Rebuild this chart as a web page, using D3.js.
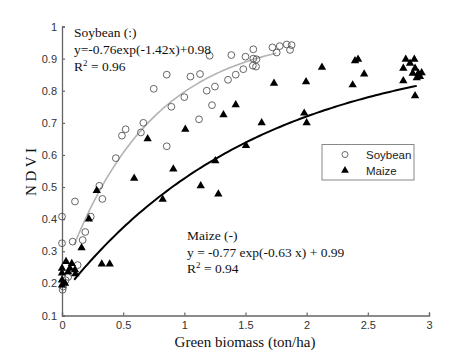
<!DOCTYPE html>
<html>
<head>
<meta charset="utf-8">
<script src="https://cdn.jsdelivr.net/npm/d3@7"></script>
<style>
body { margin: 0; background: #fff; }
svg { display: block; }
</style>
</head>
<body>
<svg id="chart" width="474" height="355"></svg>
<script>
// ---- Data ----
const soybeanX = [0.0, 0.106, 0.0, 0.087, 0.169, 0.19, 0.235, 0.305, 0.33, 0.128, 0.005, 0.01, 0.05, 0.03, 0.08,
  0.44, 0.49, 0.52, 0.645, 0.665, 0.75, 0.856, 0.894, 0.856, 1.0, 1.05, 1.128, 1.12, 1.207, 1.183, 1.25, 1.226,
  1.384, 1.357, 1.42, 1.482, 1.50, 1.564, 1.564, 1.59, 1.56, 1.586, 1.72, 1.78, 1.837, 1.877, 1.755, 1.864];
const soybeanY = [0.408, 0.455, 0.325, 0.33, 0.335, 0.36, 0.408, 0.504, 0.463, 0.257, 0.18, 0.19, 0.22, 0.21, 0.235,
  0.59, 0.66, 0.68, 0.67, 0.70, 0.806, 0.85, 0.75, 0.627, 0.78, 0.844, 0.852, 0.711, 0.909, 0.80, 0.813, 0.755,
  0.911, 0.834, 0.85, 0.867, 0.906, 0.929, 0.90, 0.898, 0.878, 0.875, 0.935, 0.939, 0.944, 0.942, 0.919, 0.927];

const maizeX = [0.70, 1.008, 0.91, 1.253, 1.32, 1.42, 0.59, 0.284, 0.22, 0.16, 0.325, 0.39, 0.823, 1.134, 1.278,
  0.033, 0.08, 0.0, 0.065, 0.106, 0.0, 0.0, 0.0, 0.025, 0.05, 0.11,
  1.504, 1.632, 1.733, 1.98, 2.0, 1.995, 2.125, 2.376, 2.395, 2.42, 2.47,
  2.79, 2.79, 2.81, 2.845, 2.88, 2.886, 2.867, 2.913, 2.926, 2.94, 2.886, 2.9];
const maizeY = [0.65, 0.68, 0.556, 0.582, 0.725, 0.756, 0.527, 0.489, 0.40, 0.311, 0.26, 0.26, 0.462, 0.504, 0.478,
  0.268, 0.262, 0.247, 0.247, 0.242, 0.232, 0.21, 0.195, 0.2, 0.236, 0.23,
  0.629, 0.70, 0.823, 0.73, 0.70, 0.828, 0.873, 0.818, 0.893, 0.898, 0.852,
  0.831, 0.87, 0.898, 0.885, 0.898, 0.87, 0.854, 0.854, 0.844, 0.856, 0.784, 0.84];

// fitted curves as drawn: y = a - b*exp(-c*x), over [from, to]
const soybeanFit = [0.98, 0.76, 1.42, 0.1, 1.75];
const maizeFit = [0.94, 0.776, 0.63, 0.1, 2.9];

const xTicks = [0, 0.5, 1, 1.5, 2, 2.5, 3];
const yTicks = [0.1, 0.2, 0.3, 0.4, 0.5, 0.6, 0.7, 0.8, 0.9, 1];

const soybeanText = ["Soybean (:)", "y=-0.76exp(-1.42x)+0.98", "R", "2", " = 0.96"];
const maizeText = ["Maize (-)", "y = -0.77 exp(-0.63 x) + 0.99", "R", "2", " = 0.94"];
const legendLabels = ["Soybean", "Maize"];
const xTitle = "Green biomass (ton/ha)";
const yTitle = "N D V I";

// ---- Drawing ----
const svg = d3.select("#chart");
const x = d3.scaleLinear().domain([0, 3]).range([62, 429]);
const y = d3.scaleLinear().domain([0.1, 1]).range([315.5, 26.5]);
const axisColor = "#666";
const serif = "'Liberation Serif', 'Times New Roman', serif";
const sans = "'Liberation Sans', Arial, sans-serif";

// axes
const gx = svg.append("g").attr("transform", `translate(0,${y(0.1)})`)
  .call(d3.axisBottom(x).tickValues(xTicks).tickSize(-3).tickPadding(6).tickFormat(d3.format("")));
const gy = svg.append("g").attr("transform", `translate(${x(0)},0)`)
  .call(d3.axisLeft(y).tickValues(yTicks).tickSize(-3).tickPadding(5).tickFormat(d => d === 1 ? "1" : d3.format(".1f")(d)));
[gx, gy].forEach(g => {
  g.select(".domain").attr("stroke", axisColor).attr("stroke-width", 1.3);
  g.selectAll(".tick line").attr("stroke", axisColor).attr("stroke-width", 1.2);
  g.selectAll(".tick text").attr("fill", "#333").style("font-family", sans).style("font-size", "11px");
});

// fit curves
function fitPoints(p) {
  const [a, b, c, x0, x1] = p;
  return d3.range(0, 101).map(i => {
    const xv = x0 + (x1 - x0) * i / 100;
    return [xv, a - b * Math.exp(-c * xv)];
  });
}
const line = d3.line().x(d => x(d[0])).y(d => y(d[1]));
svg.append("path").datum(fitPoints(soybeanFit)).attr("d", line)
  .attr("fill", "none").attr("stroke", "#b3b3b3").attr("stroke-width", 1.6);

// soybean points
const soy = soybeanX.map((v, i) => [v, soybeanY[i]]);
svg.append("g").selectAll("circle").data(soy).join("circle")
  .attr("cx", d => x(d[0])).attr("cy", d => y(d[1])).attr("r", 3.4)
  .attr("fill", "none").attr("stroke", "#555").attr("stroke-width", 0.9);

svg.append("path").datum(fitPoints(maizeFit)).attr("d", line)
  .attr("fill", "none").attr("stroke", "#000").attr("stroke-width", 2);

// maize points
const tri = d3.symbol().type(d3.symbolTriangle).size(30);
const maize = maizeX.map((v, i) => [v, maizeY[i]]);
svg.append("g").selectAll("path").data(maize).join("path")
  .attr("d", tri).attr("transform", d => `translate(${x(d[0])},${y(d[1])})`)
  .attr("fill", "#000");

// annotations
function annot(lines, x0, y0, dy) {
  const t = svg.append("g").style("font-family", serif).style("font-size", "13.5px").attr("fill", "#111");
  t.append("text").attr("x", x0).attr("y", y0).text(lines[0]);
  t.append("text").attr("x", x0).attr("y", y0 + dy).text(lines[1]);
  const r = t.append("text").attr("x", x0).attr("y", y0 + 2 * dy);
  r.append("tspan").text(lines[2]);
  r.append("tspan").attr("dy", -5).style("font-size", "9px").text(lines[3]);
  r.append("tspan").attr("dy", 5).text(lines[4]);
}
annot(soybeanText, 74, 37, 16.8);
annot(maizeText, 187, 240, 16.5);

// legend
const lg = svg.append("g");
lg.append("rect").attr("x", 322).attr("y", 144.5).attr("width", 92).attr("height", 35.5)
  .attr("fill", "#fff").attr("stroke", "#888").attr("stroke-width", 1);
lg.append("circle").attr("cx", 345).attr("cy", 154.5).attr("r", 3)
  .attr("fill", "none").attr("stroke", "#555").attr("stroke-width", 0.9);
lg.append("path").attr("d", d3.symbol().type(d3.symbolTriangle).size(26))
  .attr("transform", "translate(345,170.5)").attr("fill", "#000");
lg.selectAll("text").data(legendLabels).join("text")
  .attr("x", 366).attr("y", (d, i) => 158.5 + i * 16)
  .style("font-family", sans).style("font-size", "11.5px").attr("fill", "#222").text(d => d);

// axis titles
svg.append("text").attr("x", 245).attr("y", 346.5).attr("text-anchor", "middle")
  .style("font-family", serif).style("font-size", "15px").attr("fill", "#111").text(xTitle);
svg.append("text").attr("transform", "translate(36,172) rotate(-90)").attr("text-anchor", "middle")
  .style("font-family", serif).style("font-size", "15px").attr("fill", "#111").text(yTitle);
</script>
</body>
</html>
